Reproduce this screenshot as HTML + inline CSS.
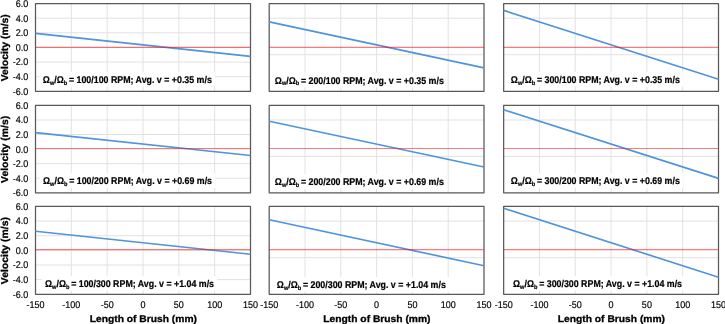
<!DOCTYPE html>
<html><head><meta charset="utf-8"><style>
html,body{margin:0;padding:0;background:#fff;width:725px;height:324px;overflow:hidden}
svg{display:block;text-rendering:geometricPrecision}
text{font-family:"Liberation Sans",Arial,sans-serif;fill:#000;stroke:#000;stroke-width:0.18px}
.tick{font-size:9.8px}
.ann{font-size:9.8px;font-weight:bold;stroke-width:0.22px}
.sub{font-size:6.2px}
.xt{font-size:9.7px;font-weight:bold;stroke-width:0.3px}
.yt{font-size:10.0px;font-weight:bold;stroke-width:0.3px}
</style></head><body>
<svg width="725" height="324" viewBox="0 0 725 324">
<rect width="725" height="324" fill="#fff"/>
<line x1="71.33" y1="3.55" x2="71.33" y2="91.30" stroke="#e2e2e2"/>
<line x1="107.17" y1="3.55" x2="107.17" y2="91.30" stroke="#e2e2e2"/>
<line x1="143.00" y1="3.55" x2="143.00" y2="91.30" stroke="#e2e2e2"/>
<line x1="178.83" y1="3.55" x2="178.83" y2="91.30" stroke="#e2e2e2"/>
<line x1="214.67" y1="3.55" x2="214.67" y2="91.30" stroke="#e2e2e2"/>
<line x1="35.50" y1="76.67" x2="250.50" y2="76.67" stroke="#e2e2e2"/>
<line x1="35.50" y1="62.05" x2="250.50" y2="62.05" stroke="#e2e2e2"/>
<line x1="35.50" y1="47.42" x2="250.50" y2="47.42" stroke="#e2e2e2"/>
<line x1="35.50" y1="32.80" x2="250.50" y2="32.80" stroke="#e2e2e2"/>
<line x1="35.50" y1="18.18" x2="250.50" y2="18.18" stroke="#e2e2e2"/>
<rect x="39.50" y="71.75" width="175.5" height="14.8" fill="#fff"/>
<rect x="35.50" y="3.55" width="215.00" height="87.75" fill="none" stroke="#595959" stroke-width="1.25" stroke-linejoin="round"/>
<line x1="35.50" y1="33.38" x2="250.50" y2="56.35" stroke="#4f94dc" stroke-width="1.65"/>
<line x1="35.50" y1="47.42" x2="250.50" y2="47.42" stroke="#ff0a14" stroke-opacity="0.55" stroke-width="1.1"/>
<text transform="translate(42.80,82.75) scale(0.901,1)" class="ann">Ω<tspan class="sub" dy="1.9">w</tspan><tspan dy="-1.9">/Ω</tspan><tspan class="sub" dy="1.9">b</tspan><tspan dy="-1.9" dx="-0.75"> = 100/100 RPM; Avg. v = +0.35 m/s</tspan></text>
<line x1="305.00" y1="3.55" x2="305.00" y2="91.30" stroke="#e2e2e2"/>
<line x1="340.80" y1="3.55" x2="340.80" y2="91.30" stroke="#e2e2e2"/>
<line x1="376.60" y1="3.55" x2="376.60" y2="91.30" stroke="#e2e2e2"/>
<line x1="412.40" y1="3.55" x2="412.40" y2="91.30" stroke="#e2e2e2"/>
<line x1="448.20" y1="3.55" x2="448.20" y2="91.30" stroke="#e2e2e2"/>
<line x1="269.20" y1="54.74" x2="484.00" y2="54.74" stroke="#e2e2e2"/>
<line x1="269.20" y1="18.18" x2="484.00" y2="18.18" stroke="#e2e2e2"/>
<rect x="271.50" y="72.50" width="175.5" height="14.8" fill="#fff"/>
<rect x="269.20" y="3.55" width="214.80" height="87.75" fill="none" stroke="#595959" stroke-width="1.25" stroke-linejoin="round"/>
<line x1="269.20" y1="21.89" x2="484.00" y2="67.84" stroke="#4f94dc" stroke-width="1.65"/>
<line x1="269.20" y1="47.42" x2="484.00" y2="47.42" stroke="#ff0a14" stroke-opacity="0.55" stroke-width="1.1"/>
<text transform="translate(274.80,83.50) scale(0.901,1)" class="ann">Ω<tspan class="sub" dy="1.9">w</tspan><tspan dy="-1.9">/Ω</tspan><tspan class="sub" dy="1.9">b</tspan><tspan dy="-1.9" dx="-0.75"> = 200/100 RPM; Avg. v = +0.35 m/s</tspan></text>
<line x1="539.46" y1="3.55" x2="539.46" y2="91.30" stroke="#e2e2e2"/>
<line x1="575.27" y1="3.55" x2="575.27" y2="91.30" stroke="#e2e2e2"/>
<line x1="611.08" y1="3.55" x2="611.08" y2="91.30" stroke="#e2e2e2"/>
<line x1="646.88" y1="3.55" x2="646.88" y2="91.30" stroke="#e2e2e2"/>
<line x1="682.69" y1="3.55" x2="682.69" y2="91.30" stroke="#e2e2e2"/>
<line x1="503.65" y1="54.74" x2="718.50" y2="54.74" stroke="#e2e2e2"/>
<line x1="503.65" y1="18.18" x2="718.50" y2="18.18" stroke="#e2e2e2"/>
<rect x="507.50" y="71.70" width="175.5" height="14.8" fill="#fff"/>
<rect x="503.65" y="3.55" width="214.85" height="87.75" fill="none" stroke="#595959" stroke-width="1.25" stroke-linejoin="round"/>
<line x1="503.65" y1="10.41" x2="718.50" y2="79.32" stroke="#4f94dc" stroke-width="1.65"/>
<line x1="503.65" y1="47.42" x2="718.50" y2="47.42" stroke="#ff0a14" stroke-opacity="0.55" stroke-width="1.1"/>
<text transform="translate(510.80,82.70) scale(0.901,1)" class="ann">Ω<tspan class="sub" dy="1.9">w</tspan><tspan dy="-1.9">/Ω</tspan><tspan class="sub" dy="1.9">b</tspan><tspan dy="-1.9" dx="-0.75"> = 300/100 RPM; Avg. v = +0.35 m/s</tspan></text>
<text transform="translate(28.20,6.95) scale(0.918,1)" class="tick" text-anchor="end">6.0</text>
<text transform="translate(28.20,21.57) scale(0.918,1)" class="tick" text-anchor="end">4.0</text>
<text transform="translate(28.20,36.20) scale(0.918,1)" class="tick" text-anchor="end">2.0</text>
<text transform="translate(28.20,50.82) scale(0.918,1)" class="tick" text-anchor="end">0.0</text>
<text transform="translate(28.20,65.45) scale(0.918,1)" class="tick" text-anchor="end">-2.0</text>
<text transform="translate(28.20,80.08) scale(0.918,1)" class="tick" text-anchor="end">-4.0</text>
<text transform="translate(28.20,94.70) scale(0.918,1)" class="tick" text-anchor="end">-6.0</text>
<text class="yt" transform="translate(7.9,47.72) rotate(-90) scale(1.04,1)" text-anchor="middle">Velocity (m/s)</text>
<line x1="71.33" y1="105.40" x2="71.33" y2="192.80" stroke="#e2e2e2"/>
<line x1="107.17" y1="105.40" x2="107.17" y2="192.80" stroke="#e2e2e2"/>
<line x1="143.00" y1="105.40" x2="143.00" y2="192.80" stroke="#e2e2e2"/>
<line x1="178.83" y1="105.40" x2="178.83" y2="192.80" stroke="#e2e2e2"/>
<line x1="214.67" y1="105.40" x2="214.67" y2="192.80" stroke="#e2e2e2"/>
<line x1="35.50" y1="178.23" x2="250.50" y2="178.23" stroke="#e2e2e2"/>
<line x1="35.50" y1="163.67" x2="250.50" y2="163.67" stroke="#e2e2e2"/>
<line x1="35.50" y1="149.10" x2="250.50" y2="149.10" stroke="#e2e2e2"/>
<line x1="35.50" y1="134.53" x2="250.50" y2="134.53" stroke="#e2e2e2"/>
<line x1="35.50" y1="119.97" x2="250.50" y2="119.97" stroke="#e2e2e2"/>
<rect x="39.70" y="173.00" width="175.5" height="14.8" fill="#fff"/>
<rect x="35.50" y="105.40" width="215.00" height="87.40" fill="none" stroke="#595959" stroke-width="1.25" stroke-linejoin="round"/>
<line x1="35.50" y1="132.63" x2="250.50" y2="155.52" stroke="#4f94dc" stroke-width="1.65"/>
<line x1="35.50" y1="148.50" x2="250.50" y2="148.50" stroke="#ff0a14" stroke-opacity="0.55" stroke-width="1.1"/>
<text transform="translate(43.00,184.00) scale(0.901,1)" class="ann">Ω<tspan class="sub" dy="1.9">w</tspan><tspan dy="-1.9">/Ω</tspan><tspan class="sub" dy="1.9">b</tspan><tspan dy="-1.9" dx="-0.75"> = 100/200 RPM; Avg. v = +0.69 m/s</tspan></text>
<line x1="305.00" y1="105.40" x2="305.00" y2="192.80" stroke="#e2e2e2"/>
<line x1="340.80" y1="105.40" x2="340.80" y2="192.80" stroke="#e2e2e2"/>
<line x1="376.60" y1="105.40" x2="376.60" y2="192.80" stroke="#e2e2e2"/>
<line x1="412.40" y1="105.40" x2="412.40" y2="192.80" stroke="#e2e2e2"/>
<line x1="448.20" y1="105.40" x2="448.20" y2="192.80" stroke="#e2e2e2"/>
<line x1="269.20" y1="156.38" x2="484.00" y2="156.38" stroke="#e2e2e2"/>
<line x1="269.20" y1="119.97" x2="484.00" y2="119.97" stroke="#e2e2e2"/>
<rect x="271.50" y="173.90" width="175.5" height="14.8" fill="#fff"/>
<rect x="269.20" y="105.40" width="214.80" height="87.40" fill="none" stroke="#595959" stroke-width="1.25" stroke-linejoin="round"/>
<line x1="269.20" y1="121.19" x2="484.00" y2="166.96" stroke="#4f94dc" stroke-width="1.65"/>
<line x1="269.20" y1="148.50" x2="484.00" y2="148.50" stroke="#ff0a14" stroke-opacity="0.55" stroke-width="1.1"/>
<text transform="translate(274.80,184.90) scale(0.901,1)" class="ann">Ω<tspan class="sub" dy="1.9">w</tspan><tspan dy="-1.9">/Ω</tspan><tspan class="sub" dy="1.9">b</tspan><tspan dy="-1.9" dx="-0.75"> = 200/200 RPM; Avg. v = +0.69 m/s</tspan></text>
<line x1="539.46" y1="105.40" x2="539.46" y2="192.80" stroke="#e2e2e2"/>
<line x1="575.27" y1="105.40" x2="575.27" y2="192.80" stroke="#e2e2e2"/>
<line x1="611.08" y1="105.40" x2="611.08" y2="192.80" stroke="#e2e2e2"/>
<line x1="646.88" y1="105.40" x2="646.88" y2="192.80" stroke="#e2e2e2"/>
<line x1="682.69" y1="105.40" x2="682.69" y2="192.80" stroke="#e2e2e2"/>
<line x1="503.65" y1="156.38" x2="718.50" y2="156.38" stroke="#e2e2e2"/>
<line x1="503.65" y1="119.97" x2="718.50" y2="119.97" stroke="#e2e2e2"/>
<rect x="507.50" y="173.20" width="175.5" height="14.8" fill="#fff"/>
<rect x="503.65" y="105.40" width="214.85" height="87.40" fill="none" stroke="#595959" stroke-width="1.25" stroke-linejoin="round"/>
<line x1="503.65" y1="109.75" x2="718.50" y2="178.40" stroke="#4f94dc" stroke-width="1.65"/>
<line x1="503.65" y1="148.50" x2="718.50" y2="148.50" stroke="#ff0a14" stroke-opacity="0.55" stroke-width="1.1"/>
<text transform="translate(510.80,184.20) scale(0.901,1)" class="ann">Ω<tspan class="sub" dy="1.9">w</tspan><tspan dy="-1.9">/Ω</tspan><tspan class="sub" dy="1.9">b</tspan><tspan dy="-1.9" dx="-0.75"> = 300/200 RPM; Avg. v = +0.69 m/s</tspan></text>
<text transform="translate(28.20,108.80) scale(0.918,1)" class="tick" text-anchor="end">6.0</text>
<text transform="translate(28.20,123.37) scale(0.918,1)" class="tick" text-anchor="end">4.0</text>
<text transform="translate(28.20,137.93) scale(0.918,1)" class="tick" text-anchor="end">2.0</text>
<text transform="translate(28.20,152.50) scale(0.918,1)" class="tick" text-anchor="end">0.0</text>
<text transform="translate(28.20,167.07) scale(0.918,1)" class="tick" text-anchor="end">-2.0</text>
<text transform="translate(28.20,181.63) scale(0.918,1)" class="tick" text-anchor="end">-4.0</text>
<text transform="translate(28.20,196.20) scale(0.918,1)" class="tick" text-anchor="end">-6.0</text>
<text class="yt" transform="translate(7.9,149.40) rotate(-90) scale(1.04,1)" text-anchor="middle">Velocity (m/s)</text>
<line x1="71.33" y1="206.45" x2="71.33" y2="294.25" stroke="#e2e2e2"/>
<line x1="107.17" y1="206.45" x2="107.17" y2="294.25" stroke="#e2e2e2"/>
<line x1="143.00" y1="206.45" x2="143.00" y2="294.25" stroke="#e2e2e2"/>
<line x1="178.83" y1="206.45" x2="178.83" y2="294.25" stroke="#e2e2e2"/>
<line x1="214.67" y1="206.45" x2="214.67" y2="294.25" stroke="#e2e2e2"/>
<line x1="35.50" y1="279.62" x2="250.50" y2="279.62" stroke="#e2e2e2"/>
<line x1="35.50" y1="264.98" x2="250.50" y2="264.98" stroke="#e2e2e2"/>
<line x1="35.50" y1="250.35" x2="250.50" y2="250.35" stroke="#e2e2e2"/>
<line x1="35.50" y1="235.72" x2="250.50" y2="235.72" stroke="#e2e2e2"/>
<line x1="35.50" y1="221.08" x2="250.50" y2="221.08" stroke="#e2e2e2"/>
<rect x="41.70" y="275.85" width="175.5" height="14.8" fill="#fff"/>
<rect x="35.50" y="206.45" width="215.00" height="87.80" fill="none" stroke="#595959" stroke-width="1.25" stroke-linejoin="round"/>
<line x1="35.50" y1="231.25" x2="250.50" y2="254.23" stroke="#4f94dc" stroke-width="1.65"/>
<line x1="35.50" y1="249.60" x2="250.50" y2="249.60" stroke="#ff0a14" stroke-opacity="0.55" stroke-width="1.1"/>
<text transform="translate(45.00,286.85) scale(0.901,1)" class="ann">Ω<tspan class="sub" dy="1.9">w</tspan><tspan dy="-1.9">/Ω</tspan><tspan class="sub" dy="1.9">b</tspan><tspan dy="-1.9" dx="-0.75"> = 100/300 RPM; Avg. v = +1.04 m/s</tspan></text>
<line x1="305.00" y1="206.45" x2="305.00" y2="294.25" stroke="#e2e2e2"/>
<line x1="340.80" y1="206.45" x2="340.80" y2="294.25" stroke="#e2e2e2"/>
<line x1="376.60" y1="206.45" x2="376.60" y2="294.25" stroke="#e2e2e2"/>
<line x1="412.40" y1="206.45" x2="412.40" y2="294.25" stroke="#e2e2e2"/>
<line x1="448.20" y1="206.45" x2="448.20" y2="294.25" stroke="#e2e2e2"/>
<line x1="269.20" y1="257.67" x2="484.00" y2="257.67" stroke="#e2e2e2"/>
<line x1="269.20" y1="221.08" x2="484.00" y2="221.08" stroke="#e2e2e2"/>
<rect x="273.50" y="277.00" width="175.5" height="14.8" fill="#fff"/>
<rect x="269.20" y="206.45" width="214.80" height="87.80" fill="none" stroke="#595959" stroke-width="1.25" stroke-linejoin="round"/>
<line x1="269.20" y1="219.75" x2="484.00" y2="265.73" stroke="#4f94dc" stroke-width="1.65"/>
<line x1="269.20" y1="249.60" x2="484.00" y2="249.60" stroke="#ff0a14" stroke-opacity="0.55" stroke-width="1.1"/>
<text transform="translate(276.80,288.00) scale(0.901,1)" class="ann">Ω<tspan class="sub" dy="1.9">w</tspan><tspan dy="-1.9">/Ω</tspan><tspan class="sub" dy="1.9">b</tspan><tspan dy="-1.9" dx="-0.75"> = 200/300 RPM; Avg. v = +1.04 m/s</tspan></text>
<line x1="539.46" y1="206.45" x2="539.46" y2="294.25" stroke="#e2e2e2"/>
<line x1="575.27" y1="206.45" x2="575.27" y2="294.25" stroke="#e2e2e2"/>
<line x1="611.08" y1="206.45" x2="611.08" y2="294.25" stroke="#e2e2e2"/>
<line x1="646.88" y1="206.45" x2="646.88" y2="294.25" stroke="#e2e2e2"/>
<line x1="682.69" y1="206.45" x2="682.69" y2="294.25" stroke="#e2e2e2"/>
<line x1="503.65" y1="257.67" x2="718.50" y2="257.67" stroke="#e2e2e2"/>
<line x1="503.65" y1="221.08" x2="718.50" y2="221.08" stroke="#e2e2e2"/>
<rect x="509.70" y="275.85" width="175.5" height="14.8" fill="#fff"/>
<rect x="503.65" y="206.45" width="214.85" height="87.80" fill="none" stroke="#595959" stroke-width="1.25" stroke-linejoin="round"/>
<line x1="503.65" y1="208.26" x2="718.50" y2="277.22" stroke="#4f94dc" stroke-width="1.65"/>
<line x1="503.65" y1="249.60" x2="718.50" y2="249.60" stroke="#ff0a14" stroke-opacity="0.55" stroke-width="1.1"/>
<text transform="translate(513.00,286.85) scale(0.901,1)" class="ann">Ω<tspan class="sub" dy="1.9">w</tspan><tspan dy="-1.9">/Ω</tspan><tspan class="sub" dy="1.9">b</tspan><tspan dy="-1.9" dx="-0.75"> = 300/300 RPM; Avg. v = +1.04 m/s</tspan></text>
<text transform="translate(28.20,209.85) scale(0.918,1)" class="tick" text-anchor="end">6.0</text>
<text transform="translate(28.20,224.48) scale(0.918,1)" class="tick" text-anchor="end">4.0</text>
<text transform="translate(28.20,239.12) scale(0.918,1)" class="tick" text-anchor="end">2.0</text>
<text transform="translate(28.20,253.75) scale(0.918,1)" class="tick" text-anchor="end">0.0</text>
<text transform="translate(28.20,268.38) scale(0.918,1)" class="tick" text-anchor="end">-2.0</text>
<text transform="translate(28.20,283.02) scale(0.918,1)" class="tick" text-anchor="end">-4.0</text>
<text transform="translate(28.20,297.65) scale(0.918,1)" class="tick" text-anchor="end">-6.0</text>
<text class="yt" transform="translate(7.9,250.65) rotate(-90) scale(1.04,1)" text-anchor="middle">Velocity (m/s)</text>
<text transform="translate(35.50,307.65) scale(0.918,1)" class="tick" text-anchor="middle">-150</text>
<text transform="translate(71.33,307.65) scale(0.918,1)" class="tick" text-anchor="middle">-100</text>
<text transform="translate(107.17,307.65) scale(0.918,1)" class="tick" text-anchor="middle">-50</text>
<text transform="translate(143.00,307.65) scale(0.918,1)" class="tick" text-anchor="middle">0</text>
<text transform="translate(178.83,307.65) scale(0.918,1)" class="tick" text-anchor="middle">50</text>
<text transform="translate(214.67,307.65) scale(0.918,1)" class="tick" text-anchor="middle">100</text>
<text transform="translate(250.50,307.65) scale(0.918,1)" class="tick" text-anchor="middle">150</text>
<text transform="translate(143.30,321.6) scale(1.06,1)" class="xt" text-anchor="middle">Length of Brush (mm)</text>
<text transform="translate(269.20,307.65) scale(0.918,1)" class="tick" text-anchor="middle">-150</text>
<text transform="translate(305.00,307.65) scale(0.918,1)" class="tick" text-anchor="middle">-100</text>
<text transform="translate(340.80,307.65) scale(0.918,1)" class="tick" text-anchor="middle">-50</text>
<text transform="translate(376.60,307.65) scale(0.918,1)" class="tick" text-anchor="middle">0</text>
<text transform="translate(412.40,307.65) scale(0.918,1)" class="tick" text-anchor="middle">50</text>
<text transform="translate(448.20,307.65) scale(0.918,1)" class="tick" text-anchor="middle">100</text>
<text transform="translate(484.00,307.65) scale(0.918,1)" class="tick" text-anchor="middle">150</text>
<text transform="translate(376.90,321.6) scale(1.06,1)" class="xt" text-anchor="middle">Length of Brush (mm)</text>
<text transform="translate(503.65,307.65) scale(0.918,1)" class="tick" text-anchor="middle">-150</text>
<text transform="translate(539.46,307.65) scale(0.918,1)" class="tick" text-anchor="middle">-100</text>
<text transform="translate(575.27,307.65) scale(0.918,1)" class="tick" text-anchor="middle">-50</text>
<text transform="translate(611.08,307.65) scale(0.918,1)" class="tick" text-anchor="middle">0</text>
<text transform="translate(646.88,307.65) scale(0.918,1)" class="tick" text-anchor="middle">50</text>
<text transform="translate(682.69,307.65) scale(0.918,1)" class="tick" text-anchor="middle">100</text>
<text transform="translate(718.50,307.65) scale(0.918,1)" class="tick" text-anchor="middle">150</text>
<text transform="translate(611.38,321.6) scale(1.06,1)" class="xt" text-anchor="middle">Length of Brush (mm)</text>
</svg>
</body></html>
